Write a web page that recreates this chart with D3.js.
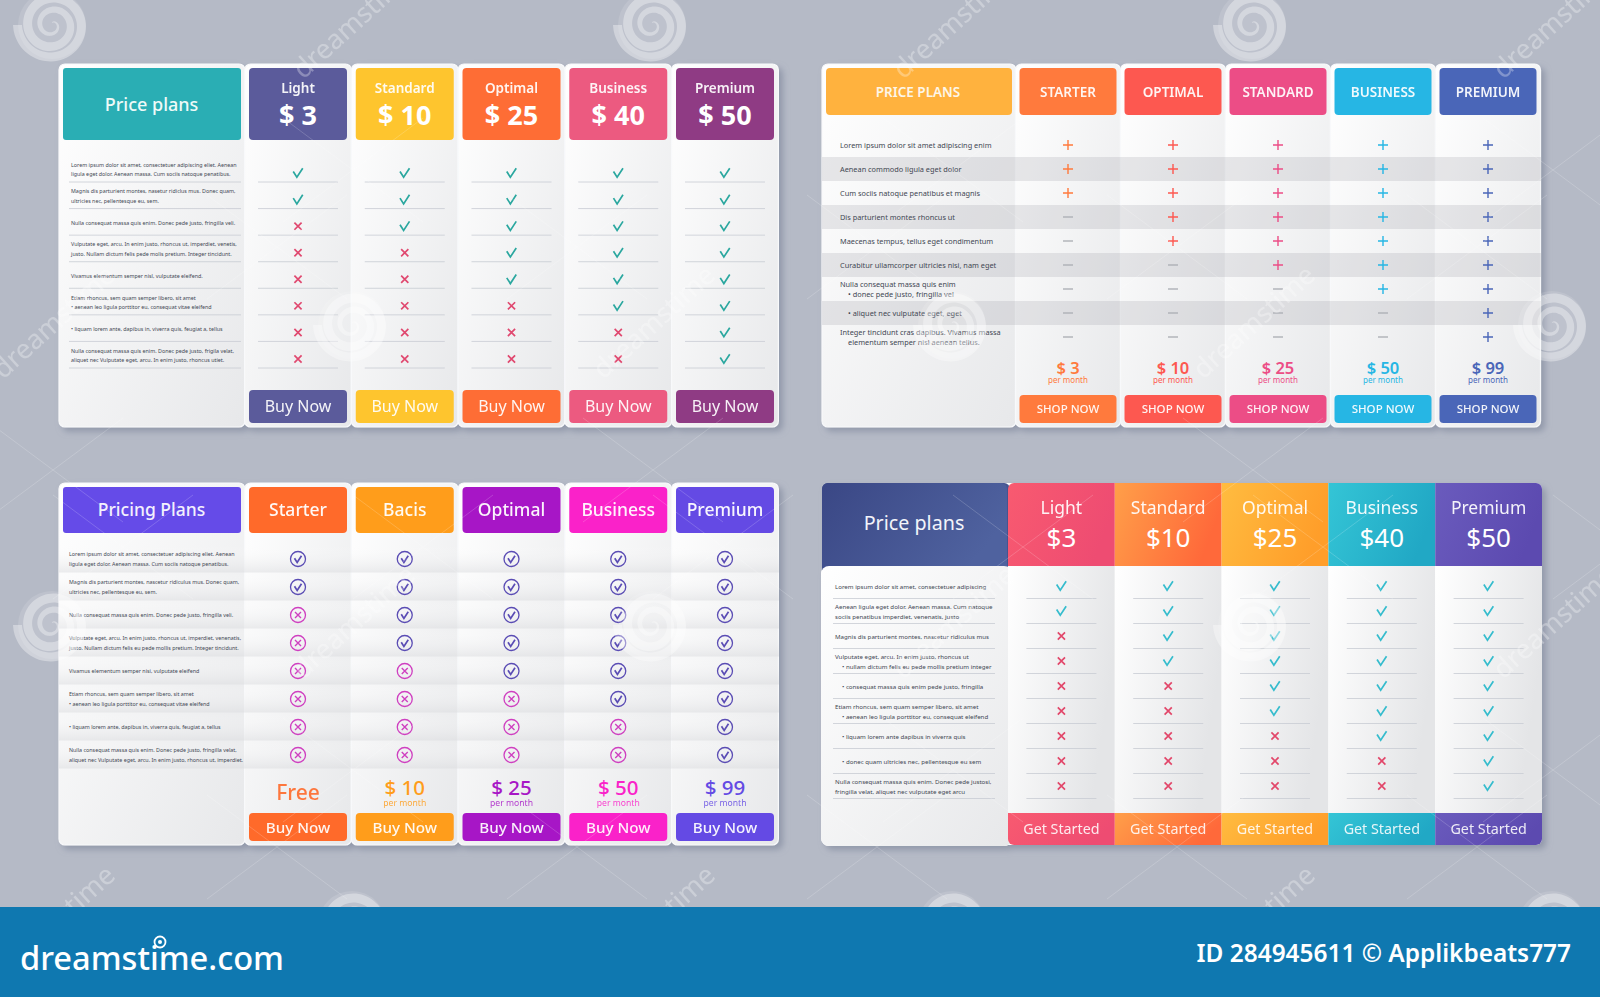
<!DOCTYPE html>
<html>
<head>
<meta charset="utf-8">
<title>Price plans</title>
<script src="https://cdn.jsdelivr.net/npm/d3@7"></script>
<style>
    html, body { margin: 0; padding: 0; background: #b5bac6; }
    svg { display: block; }
    text { font-family: "Noto Sans", "Open Sans", sans-serif; }
</style>
</head>
<body>
<div id="chart"></div>
<script>
// top left table
const tlPlans = ["Light", "Standard", "Optimal", "Business", "Premium"];
const tlPrices = ["$ 3", "$ 10", "$ 25", "$ 40", "$ 50"];
const tlIncluded = [2, 3, 5, 6, 8];
const tlColors = ["#5b5b9b", "#fec52e", "#fe6d35", "#ec5a80", "#8f3b84"];
const tlFeatures = [
    ["Lorem ipsum dolor sit amet, consectetuer adipiscing eliet. Aenean", "ligula eget dolor. Aenean massa. Cum sociis natoque penatibus."],
    ["Magnis dis parturient montes, nasetur ridiclus mus. Donec quam,", "ultricies nec, pellentesque eu, sem."],
    ["Nulla consequat massa quis enim. Donec pede justo, fringilla veli."],
    ["Vulputate eget, arcu. In enim justo, rhoncus ut, imperdiet, venetis,", "justo. Nullam dictum felis pede molis pretium. Integer tincidunt."],
    ["Vivamus elementum semper nisl, vulputate eleifend."],
    ["Etiam rhoncus, sem quam semper libero, sit amet", "• aenean leo ligula porttitor eu, consequat vitae eleifend"],
    ["• liquam lorem ante, dapibus in, viverra quis, feugiat a, tellus"],
    ["Nulla consequat massa quis enim. Donec pede justo, frigila velat,", "aliquet nec Vulputate eget, arcu. In enim justo, rhoncus utiet."]
];

// top right table
const trPlans = ["STARTER", "OPTIMAL", "STANDARD", "BUSINESS", "PREMIUM"];
const trPrices = ["$ 3", "$ 10", "$ 25", "$ 50", "$ 99"];
const trIncluded = [3, 5, 6, 7, 9];
const trColors = ["#ff7a3d", "#fd5850", "#ec4d86", "#26b6e4", "#4a66b8"];
const trFeatures = [
    ["Lorem ipsum dolor sit amet adipiscing enim"],
    ["Aenean commodo ligula eget dolor"],
    ["Cum sociis natoque penatibus et magnis"],
    ["Dis parturient montes rhoncus ut"],
    ["Maecenas tempus, tellus eget condimentum"],
    ["Curabitur ullamcorper ultricies nisi, nam eget"],
    ["Nulla consequat massa quis enim", "  • donec pede justo, fringilla vel"],
    ["  • aliquet nec vulputate eget, eget"],
    ["Integer tincidunt cras dapibus. Vivamus massa", "  elementum semper nisl aenean tellus."]
];

// bottom left table
const blPlans = ["Starter", "Bacis", "Optimal", "Business", "Premium"];
const blPrices = ["Free", "$ 10", "$ 25", "$ 50", "$ 99"];
const blIncluded = [2, 4, 5, 6, 8];
const blColors = ["#ff6a2a", "#ff9d1b", "#a716c6", "#fa22c9", "#644ae4"];
const blFeatures = [
    ["Lorem ipsum dolor sit amet, consectetuer adipiscing eliet. Aenean", "ligula eget dolor. Aenean massa. Cum sociis natoque penatibus."],
    ["Magnis dis parturient montes, nascetur ridiculus mus. Donec quam,", "ultricies nec, pellentesque eu, sem."],
    ["Nulla consequat massa quis enim. Donec pede justo, fringilla veli."],
    ["Vulputate eget, arcu. In enim justo, rhoncus ut, imperdiet, venenatis,", "justo. Nullam dictum felis eu pede mollis pretium. Integer tincidunt."],
    ["Vivamus elementum semper nisi, vulputate eleifend"],
    ["Etiam rhoncus, sem quam semper libero, sit amet", "• aenean leo ligula porttitor eu, consequat vitae eleifend"],
    ["• liquam lorem ante, dapibus in, viverra quis, feugiat a, tellus"],
    ["Nulla consequat massa quis enim. Donec pede justo, fringilla velat,", "aliquet nec Vulputate eget, arcu. In enim justo, rhoncus ut, imperdiet."]
];

// bottom right table
const brPlans = ["Light", "Standard", "Optimal", "Business", "Premium"];
const brPrices = ["$3", "$10", "$25", "$40", "$50"];
const brIncluded = [2, 4, 6, 7, 9];
const brColors = [["#f85a70", "#ee4c72"], ["#ff9f49", "#ff693a"], ["#ffbc40", "#ff9e2a"], ["#34c5d6", "#21a8c5"], ["#6a5bbd", "#5c4ab0"]];
const brFeatures = [
    ["Lorem ipsum dolor sit amet, consectetuer adipiscing"],
    ["Aenean ligula eget dolor. Aenean massa. Cum natoque", "sociis penatibus imperdiet, venenatis, justo"],
    ["Magnis dis parturient montes, nascetur ridiculus mus"],
    ["Vulputate eget, arcu. In enim justo, rhoncus ut", "  • nullam dictum felis eu pede mollis pretium integer"],
    ["  • consequat massa quis enim pede justo, fringilla"],
    ["Etiam rhoncus, sem quam semper libero, sit amet", "  • aenean leo ligula porttitor eu, consequat eleifend"],
    ["  • liquam lorem ante dapibus in viverra quis"],
    ["  • donec quam ultricies nec, pellentesque eu sem"],
    ["Nulla consequat massa quis enim. Donec pede justosi,", "fringilla velat, aliquet nec vulputate eget arcu"]
];

// watermark spots, one 600px tile
const spiralSpots = [[52, 25], [352, 325]];
const wordSpots = [[53, 321], [353, 21]];
const crossSpots = [[53, 470], [353, 170], [277, 247], [577, 247], [423, 547], [123, 547]];

(function () {
    "use strict";

    const width = 1600;
    const height = 997;
    const textColor = "#424753";

    const svg = d3.select("#chart").append("svg")
        .attr("width", width)
        .attr("height", height)
        .attr("viewBox", [0, 0, width, height]);

    const defs = svg.append("defs");

    defs.append("filter")
        .attr("id", "cardShadow")
        .attr("x", "-10%").attr("y", "-10%").attr("width", "120%").attr("height", "120%")
        .append("feDropShadow")
        .attr("dx", 4).attr("dy", 4).attr("stdDeviation", 3)
        .attr("flood-color", "#7f869b").attr("flood-opacity", 0.65);

    function gradient(id, from, to, x2, y2) {
        const g = defs.append("linearGradient")
            .attr("id", id)
            .attr("x1", 0).attr("y1", 0).attr("x2", x2).attr("y2", y2);
        g.append("stop").attr("offset", 0).attr("stop-color", from);
        g.append("stop").attr("offset", 1).attr("stop-color", to);
        return `url(#${id})`;
    }

    const cardFill = gradient("cardFill", "#ffffff", "#e7e8ea", 1, 1);
    const colFill = gradient("colFill", "#ffffff", "#e4e5e7", 1, 0.35);
    const rowFill = gradient("rowFill", "#ffffff00", "#d9dadd", 0, 1);

    function label(parent, x, y, text, size, color, weight, anchor) {
        return parent.append("text")
            .attr("x", x)
            .attr("y", y)
            .attr("text-anchor", anchor || "middle")
            .attr("dominant-baseline", "central")
            .attr("fill", color)
            .attr("font-size", size)
            .attr("font-weight", weight || 400)
            .text(text);
    }

    function box(parent, x0, y0, x1, y1, fill, r) {
        return parent.append("rect")
            .attr("x", x0).attr("y", y0)
            .attr("width", x1 - x0).attr("height", y1 - y0)
            .attr("rx", r).attr("fill", fill);
    }

    function card(parent, x0, y0, x1, y1) {
        return box(parent, x0, y0, x1, y1, cardFill, 6)
            .attr("stroke", "#f8f9fb").attr("stroke-width", 1.2);
    }

    function featureText(parent, rows, y, x0, size, lineGap, indent, dy) {
        rows.forEach((lines, i) => {
            const top = y(i) + dy - (lines.length - 1) * lineGap / 2;
            lines.forEach((line, j) => {
                const indented = line.startsWith("  ");
                label(parent, x0 + (indented ? indent : 0), top + j * lineGap, line.trim(), size, textColor, 400, "start");
            });
        });
    }

    function tick(parent, cx, cy, color, s) {
        parent.append("path")
            .attr("d", `M${cx - 5 * s},${cy - 1.5 * s}L${cx - 1.2 * s},${cy + 4.5 * s}L${cx + 5 * s},${cy - 5 * s}`)
            .attr("fill", "none").attr("stroke", color).attr("stroke-width", 1.7);
    }

    function cross(parent, cx, cy, color, s, w) {
        parent.append("path")
            .attr("d", `M${cx - s},${cy - s}L${cx + s},${cy + s}M${cx + s},${cy - s}L${cx - s},${cy + s}`)
            .attr("fill", "none").attr("stroke", color).attr("stroke-width", w || 1.7);
    }

    function ruleLines(parent, rows, y, x0, x1, dy) {
        parent.selectAll(null)
            .data(rows)
            .join("line")
            .attr("x1", x0).attr("x2", x1)
            .attr("y1", (d, i) => y(i) + dy).attr("y2", (d, i) => y(i) + dy)
            .attr("stroke", "#c8ccd3").attr("stroke-width", 0.8);
    }

    // background
    svg.append("rect").attr("width", width).attr("height", height).attr("fill", "#b5bac6");

    // table 1, check marks with a hairline under each row
    function drawTopLeft() {
        const g = svg.append("g");
        const x = d3.scalePoint().domain(tlPlans).range([298, 725]);
        const y = d3.scalePoint().domain(d3.range(tlFeatures.length)).range([173, 359]);

        const cards = g.append("g").attr("filter", "url(#cardShadow)");
        card(cards, 59, 64, 245, 427);
        tlPlans.forEach((p) => {
            card(cards, x(p) - 53.4, 64, x(p) + 53.4, 427);
        });

        box(g, 63, 68, 241, 140, "#2aaeb4", 3);
        label(g, 151.5, 103.5, "Price plans", 18, "#eefaf8", 500);
        featureText(g, tlFeatures, y, 71, 5.35, 9.6, 0, -3.5);
        ruleLines(g, tlFeatures, y, 69, 241, 9);

        tlPlans.forEach((p, c) => {
            const cx = x(p);
            box(g, cx - 49, 68, cx + 49, 140, tlColors[c], 4);
            label(g, cx, 87.5, p, 13.5, "#ffffff", 600).attr("opacity", 0.93);
            label(g, cx, 114, tlPrices[c], 27, "#ffffff", 700);
            ruleLines(g, tlFeatures, y, cx - 40, cx + 40, 9);
            tlFeatures.forEach((f, r) => {
                if (r < tlIncluded[c]) {
                    tick(g, cx, y(r), "#2aa79f", 0.95);
                } else {
                    cross(g, cx, y(r), "#e0486f", 3.6);
                }
            });
            box(g, cx - 49, 390, cx + 49, 423, tlColors[c], 4);
            label(g, cx, 406, "Buy Now", 16, "#ffffff", 400).attr("opacity", 0.93);
        });
    }

    // table 2, plus and dash marks over grey bands
    function drawTopRight() {
        const g = svg.append("g");
        const x = d3.scalePoint().domain(trPlans).range([1068, 1488]);
        const y = d3.scalePoint().domain(d3.range(trFeatures.length)).range([145, 337]);
        const rowH = y.step();

        const cards = g.append("g").attr("filter", "url(#cardShadow)");
        card(cards, 822, 64, 1016, 427);
        trPlans.forEach((p) => {
            card(cards, x(p) - 52.5, 64, x(p) + 52.5, 427);
        });

        g.selectAll(null)
            .data(trFeatures.filter((d, i) => i % 2 === 1))
            .join("rect")
            .attr("x", 822).attr("width", 719)
            .attr("y", (d, i) => y(i * 2 + 1) - rowH / 2)
            .attr("height", rowH)
            .attr("fill", "#8f939b").attr("opacity", 0.2);

        box(g, 826, 68, 1012, 115, "#ffb23e", 4);
        label(g, 918, 91.5, "PRICE PLANS", 13.5, "#fdf6e8", 600);
        featureText(g, trFeatures, y, 840, 7.35, 10, 8, 0);

        trPlans.forEach((p, c) => {
            const cx = x(p);
            const color = trColors[c];
            box(g, cx - 48.5, 68, cx + 48.5, 115, color, 4);
            label(g, cx, 91.5, p, 13.5, "#ffffff", 600).attr("opacity", 0.93);
            trFeatures.forEach((f, r) => {
                const s = 5;
                const d = r < trIncluded[c]
                    ? `M${cx - s},${y(r)}H${cx + s}M${cx},${y(r) - s}V${y(r) + s}`
                    : `M${cx - s},${y(r)}H${cx + s}`;
                g.append("path")
                    .attr("d", d)
                    .attr("fill", "none")
                    .attr("stroke", r < trIncluded[c] ? color : "#aeb1b6")
                    .attr("stroke-width", 1.4);
            });
            label(g, cx, 367, trPrices[c], 16.5, color, 600);
            label(g, cx, 379.5, "per month", 8, color, 400);
            box(g, cx - 48.5, 395, cx + 48.5, 423, color, 4);
            label(g, cx, 408, "SHOP NOW", 11.5, "#ffffff", 500).attr("opacity", 0.93);
        });
    }

    // table 3, ringed marks and shaded rows
    function drawBottomLeft() {
        const g = svg.append("g");
        const x = d3.scalePoint().domain(blPlans).range([298, 725]);
        const y = d3.scalePoint().domain(d3.range(blFeatures.length)).range([559, 755]);
        const rowH = y.step();

        const cards = g.append("g").attr("filter", "url(#cardShadow)");
        card(cards, 59, 483, 245, 845);
        blPlans.forEach((p) => {
            card(cards, x(p) - 53.4, 483, x(p) + 53.4, 845);
        });

        g.selectAll(null)
            .data(blFeatures)
            .join("rect")
            .attr("x", 59).attr("width", 720)
            .attr("y", (d, i) => y(i) - rowH / 2)
            .attr("height", rowH - 0.5)
            .attr("fill", rowFill).attr("opacity", 0.5);

        box(g, 63, 487, 241, 533, "#654be8", 3);
        label(g, 151.5, 509, "Pricing Plans", 17.5, "#f3f1fd", 500);
        featureText(g, blFeatures, y, 69, 5.35, 9.3, 0, 0);

        blPlans.forEach((p, c) => {
            const cx = x(p);
            const color = blColors[c];
            box(g, cx - 49, 487, cx + 49, 533, color, 4);
            label(g, cx, 509, p, 17.5, "#ffffff", 500).attr("opacity", 0.95);
            blFeatures.forEach((f, r) => {
                const included = r < blIncluded[c];
                g.append("circle")
                    .attr("cx", cx).attr("cy", y(r)).attr("r", 7.5)
                    .attr("fill", "none")
                    .attr("stroke", included ? "#5a4cb4" : "#cf3fc0")
                    .attr("stroke-width", 1.3);
                if (included) {
                    tick(g, cx, y(r) + 0.3, "#5a4cb4", 0.7);
                } else {
                    cross(g, cx, y(r), "#cf3fc0", 3, 1.4);
                }
            });
            if (c === 0) {
                label(g, cx, 791.5, blPrices[c], 21, color, 500).attr("opacity", 0.9);
            } else {
                label(g, cx, 786.5, blPrices[c], 20.5, color, 500);
                label(g, cx, 802.5, "per month", 8.6, color, 400).attr("opacity", 0.85);
            }
            box(g, cx - 49, 813, cx + 49, 841, color, 4);
            label(g, cx, 826.5, "Buy Now", 15.2, "#ffffff", 500).attr("opacity", 0.93);
        });
    }

    // table 4, joined gradient columns
    function drawBottomRight() {
        const g = svg.append("g");
        const x = d3.scaleBand().domain(brPlans).range([1008, 1542]);
        const y = d3.scalePoint().domain(d3.range(brFeatures.length)).range([586, 786]);

        const shell = g.append("g").attr("filter", "url(#cardShadow)");
        box(shell, 1000, 483, 1542, 845, "#ffffff", 6);
        box(shell, 822, 483, 1010, 600, "#44548f", 6);
        box(shell, 821, 566, 1012, 846, "#ffffff", 8);

        const headFill = gradient("brHead", "#3a4785", "#4f629f", 1, 0.4);
        box(g, 822, 483, 1007, 575, headFill, 6);
        box(g, 821, 566, 1012, 846, cardFill, 8);
        label(g, 914, 522.5, "Price plans", 19.7, "#f2f4fa", 400);
        featureText(g, brFeatures, y, 835, 6.15, 9.7, 7, 0.5);
        ruleLines(g, brFeatures, y, 833, 995, 12.5);

        g.append("clipPath").attr("id", "brClip")
            .append("rect")
            .attr("x", 1008).attr("y", 483)
            .attr("width", 534).attr("height", 362)
            .attr("rx", 6);

        const cols = g.append("g").attr("clip-path", "url(#brClip)");
        brPlans.forEach((p, c) => {
            const x0 = x(p);
            const x1 = x0 + x.bandwidth();
            const cx = x0 + x.bandwidth() / 2;
            const fill = gradient(`brCol${c}`, brColors[c][0], brColors[c][1], 1, 0.3);
            box(cols, x0, 483, x1, 566, fill, 0);
            box(cols, x0, 566, x1, 813, colFill, 0);
            box(cols, x0, 813, x1, 845, fill, 0);
            label(cols, cx, 507, p, 17.5, "#ffffff", 400).attr("opacity", 0.93);
            label(cols, cx, 536.5, brPrices[c], 26, "#ffffff", 400);
            ruleLines(cols, brFeatures, y, cx - 35, cx + 35, 12.5);
            brFeatures.forEach((f, r) => {
                if (r < brIncluded[c]) {
                    tick(cols, cx, y(r), "#35bccd", 0.95);
                } else {
                    cross(cols, cx, y(r), "#e2476a", 3.6);
                }
            });
            label(cols, cx, 828, "Get Started", 14.3, "#ffffff", 400).attr("opacity", 0.88);
        });
    }

    // stock photo marks, repeated over everything above the footer
    function drawWatermark() {
        const g = svg.append("g").attr("pointer-events", "none");
        const turns = d3.range(0, 1.001, 0.01);
        const spiral = d3.areaRadial()
            .angle((t) => t * Math.PI * 5.5)
            .innerRadius((t) => 2 + t * 28)
            .outerRadius((t) => 3 + t * 28 + Math.min(t * 14, 8))
            .curve(d3.curveCardinal);

        d3.range(0, 3).forEach((tx) => {
            d3.range(0, 2).forEach((ty) => {
                const dx = tx * 600;
                const dy = ty * 600;
                spiralSpots.forEach(([sx, sy]) => {
                    const s = g.append("g").attr("transform", `translate(${sx + dx},${sy + dy})`);
                    s.append("circle").attr("r", 34).attr("fill", "#ffffff").attr("opacity", 0.12);
                    s.append("path")
                        .attr("d", spiral(turns))
                        .attr("fill", "#ffffff").attr("opacity", 0.35);
                });
                wordSpots.forEach(([sx, sy]) => {
                    g.append("text")
                        .attr("transform", `translate(${sx + dx},${sy + dy}) rotate(-42)`)
                        .attr("text-anchor", "middle")
                        .attr("dominant-baseline", "central")
                        .attr("font-size", 27)
                        .attr("fill", "#ffffff")
                        .attr("opacity", 0.3)
                        .text("dreamstime");
                });
                crossSpots.forEach(([sx, sy]) => {
                    const cx = sx + dx;
                    const cy = sy + dy;
                    g.append("path")
                        .attr("d", `M${cx - 70},${cy - 52}L${cx + 70},${cy + 52}M${cx + 70},${cy - 52}L${cx - 70},${cy + 52}`)
                        .attr("stroke", "#ffffff")
                        .attr("stroke-width", 0.8)
                        .attr("opacity", 0.22);
                });
            });
        });
    }

    function drawFooter() {
        const g = svg.append("g");
        g.append("rect").attr("x", 0).attr("y", 907).attr("width", width).attr("height", 90).attr("fill", "#0f78b0");

        g.append("text")
            .attr("x", 20).attr("y", 970)
            .attr("textLength", 264)
            .attr("lengthAdjust", "spacingAndGlyphs")
            .attr("font-size", 33)
            .attr("font-weight", 500)
            .attr("fill", "#ffffff")
            .text("dreamstime.com");

        g.append("circle")
            .attr("cx", 160).attr("cy", 942).attr("r", 5.5)
            .attr("fill", "none").attr("stroke", "#ffffff").attr("stroke-width", 1.8);
        g.append("circle")
            .attr("cx", 160).attr("cy", 942).attr("r", 2)
            .attr("fill", "#ffffff");

        g.append("text")
            .attr("x", 1571).attr("y", 952.5)
            .attr("text-anchor", "end")
            .attr("dominant-baseline", "central")
            .attr("font-size", 24.4)
            .attr("font-weight", 600)
            .attr("fill", "#ffffff")
            .text("ID 284945611 © Applikbeats777");
    }

    drawTopLeft();
    drawTopRight();
    drawBottomLeft();
    drawBottomRight();
    drawWatermark();
    drawFooter();
})();
</script>
</body>
</html>
